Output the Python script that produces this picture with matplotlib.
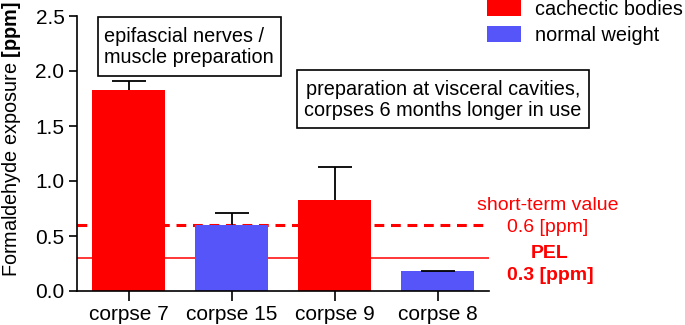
import matplotlib
matplotlib.use('Agg')
import matplotlib.pyplot as plt
from matplotlib.patches import Patch, Rectangle

plt.rcParams['font.family'] = ['Liberation Sans', 'DejaVu Sans']
plt.rcParams['mathtext.fontset'] = 'custom'
plt.rcParams['mathtext.rm'] = 'Liberation Sans'
plt.rcParams['mathtext.bf'] = 'Liberation Sans:bold'

# data
corpses = ['corpse 7', 'corpse 15', 'corpse 9', 'corpse 8']
exposure = [1.83, 0.60, 0.83, 0.18]
err_up = [0.08, 0.11, 0.30, 0.0]
group = ['cachectic bodies', 'normal weight', 'cachectic bodies', 'normal weight']
short_term = 0.6
pel = 0.3

colors = {'cachectic bodies': '#ff0000', 'normal weight': '#5555fa'}
W, H = 685, 325

fig = plt.figure(figsize=(6.85, 3.25), dpi=100)
ax = fig.add_axes([77 / W, 1 - 291 / H, (489 - 77) / W, (291 - 16) / H])

x = list(range(len(corpses)))
ax.bar(x, exposure, width=0.71, color=[colors[g] for g in group], zorder=2)
eb = ax.errorbar(x, exposure, yerr=[[0] * len(x), err_up], fmt='none', ecolor='black',
                 elinewidth=1.3, capsize=12, capthick=1.3, zorder=3)
# only the upper caps are shown
eb[1][0].set_visible(False)

ax.axhline(short_term, color='#ff0000', lw=2.2, ls=(0, (3.2, 2.2)), zorder=1)
ax.axhline(pel, color='#ff0000', lw=1.1, zorder=1)

ax.set_xlim(-0.5, 3.5)
ax.set_ylim(0, 2.5)
ax.set_yticks([0, 0.5, 1.0, 1.5, 2.0, 2.5])
ax.set_yticklabels(['0.0', '0.5', '1.0', '1.5', '2.0', '2.5'])
ax.set_xticks(x)
ax.set_xticklabels(corpses)
ax.tick_params(labelsize=15, width=1.2, length=6, pad=3, colors='black')
ax.tick_params(axis='x', length=7, pad=3)
for s in ['top', 'right']:
    ax.spines[s].set_visible(False)
for s in ['left', 'bottom']:
    ax.spines[s].set_linewidth(1.2)

fig.text(12 / W, 1 - 139 / H, r'Formaldehyde exposure $\mathbf{[ppm]}$', rotation=90,
         ha='center', va='center', fontsize=14.3)

handles = [Patch(facecolor=colors[k], edgecolor='none') for k in colors]
fig.legend(handles, list(colors), loc='upper left', bbox_to_anchor=(485 / W, 1 + 2 / H),
           frameon=False, fontsize=14.3, handlelength=1.7, handleheight=0.8,
           handletextpad=0.7, labelspacing=0.35, borderpad=0.1, borderaxespad=0)

# annotation boxes (frame drawn separately so the size matches)
fig.patches.append(Rectangle((97.7 / W, 1 - 75.7 / H), 183 / W, 58.4 / H, transform=fig.transFigure,
                             facecolor='white', edgecolor='black', lw=1.2, zorder=5))
fig.text(104 / W, 1 - 47 / H, 'epifascial nerves /\nmuscle preparation', ha='left',
         va='center', fontsize=14.3, linespacing=1.16, zorder=6)
fig.patches.append(Rectangle((297.3 / W, 1 - 128.3 / H), 291.7 / W, 58.3 / H, transform=fig.transFigure,
                             facecolor='white', edgecolor='black', lw=1.2, zorder=5))
fig.text(443 / W, 1 - 100 / H, 'preparation at visceral cavities,\ncorpses 6 months longer in use',
         ha='center', va='center', fontsize=14.3, linespacing=1.12, zorder=6)

fig.text(548 / W, 1 - 205 / H, 'short-term value', color='#ff0000', ha='center', va='center', fontsize=14)
fig.text(548 / W, 1 - 228 / H, '0.6 [ppm]', color='#ff0000', ha='center', va='center', fontsize=14)
fig.text(550 / W, 1 - 253 / H, 'PEL', color='#ff0000', ha='center', va='center', fontsize=14, fontweight='bold')
fig.text(550 / W, 1 - 276 / H, '0.3 [ppm]', color='#ff0000', ha='center', va='center', fontsize=14, fontweight='bold')

fig.savefig('out.png', dpi=100)
